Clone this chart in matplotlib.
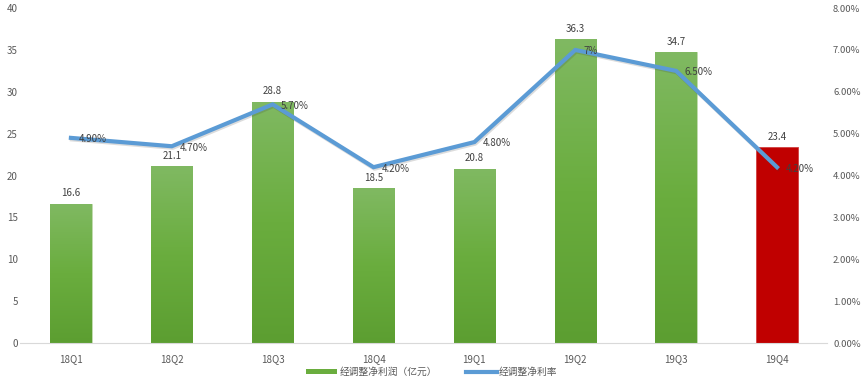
import numpy as np
import matplotlib
matplotlib.use("Agg")
import matplotlib.pyplot as plt
from matplotlib.ticker import FuncFormatter
from matplotlib.colors import LinearSegmentedColormap
from matplotlib.patches import Patch
from matplotlib.lines import Line2D

plt.rcParams['font.family'] = ['Noto Sans CJK SC', 'DejaVu Sans']

quarters = ['18Q1', '18Q2', '18Q3', '18Q4', '19Q1', '19Q2', '19Q3', '19Q4']
profit = [16.6, 21.1, 28.8, 18.5, 20.8, 36.3, 34.7, 23.4]
margin = [4.9, 4.7, 5.7, 4.2, 4.8, 7.0, 6.5, 4.2]
margin_labels = ['4.90%', '4.70%', '5.70%', '4.20%', '4.80%', '7%', '6.50%', '4.20%']
bar_colors = ['green'] * 7 + ['red']

tick_col = '#595959'
fig = plt.figure(figsize=(8.64, 3.85), dpi=100)
ax = fig.add_axes([0.0237, 0.109, 0.934, 0.87])
ax2 = ax.twinx()

x = np.arange(len(quarters))
green = LinearSegmentedColormap.from_list('g', ['#5c9e31', '#6aad3e', '#80b962'])
grad = np.linspace(0, 1, 256).reshape(-1, 1)

bars = ax.bar(x, profit, width=0.41, color='none', edgecolor='none', zorder=2)
for b, c in zip(bars, bar_colors):
    if c == 'red':
        b.set_facecolor('#c00000')
        b.set_edgecolor('#d04040')
        b.set_linewidth(0.6)
    else:
        b.set_edgecolor('#b5d3a0')
        b.set_linewidth(0.6)
        x0, w, h = b.get_x(), b.get_width(), b.get_height()
        im = ax.imshow(grad, cmap=green, origin='lower', aspect='auto',
                       extent=[x0, x0 + w, 0, h], zorder=2)
        im.set_clip_path(b)

for xi, v in zip(x, profit):
    ax.annotate(f'{v}', (xi, v), xytext=(0, 4), textcoords='offset points',
                ha='center', va='bottom', fontsize=7, color='#404040', zorder=5)

ax.set_xlim(-0.5, len(quarters) - 0.5)
ax.set_ylim(0, 40)
ax.set_yticks(range(0, 41, 5))
ax.set_xticks(x)
ax.set_xticklabels(quarters)

shadow = ax2.transData + matplotlib.transforms.ScaledTranslation(1/100, -1.5/100, fig.dpi_scale_trans)
ax2.plot(x, margin, color='#3d3d3d', lw=3, alpha=0.18, zorder=3, transform=shadow)
ax2.plot(x, margin, color='#5b9bd5', lw=3, zorder=4, solid_joinstyle='miter')
ax2.set_ylim(0, 8)
ax2.set_yticks(range(0, 9))
ax2.yaxis.set_major_formatter(FuncFormatter(lambda v, p: f'{v:.2f}%'))
for xi, v, s in zip(x, margin, margin_labels):
    ax2.annotate(s, (xi, v), xytext=(6, -1), textcoords='offset points',
                 ha='left', va='center', fontsize=7, color='#404040', zorder=6)

for a in (ax, ax2):
    for s in a.spines.values():
        s.set_visible(False)
    a.tick_params(length=0, labelsize=7, colors=tick_col)
ax.spines['bottom'].set_visible(True)
ax.spines['bottom'].set_color('#d9d9d9')
ax.tick_params(axis='x', pad=8)
ax.tick_params(axis='y', pad=2)
ax2.tick_params(axis='y', pad=4, labelsize=6.8)
ax.set_zorder(1)
ax2.set_zorder(2)
ax2.patch.set_visible(False)

handles = [Patch(facecolor='#6aad3e', edgecolor='none'),
           Line2D([0], [0], color='#5b9bd5', lw=3)]
fig.legend(handles, ['经调整净利润（亿元）', '经调整净利率'], loc='center',
           bbox_to_anchor=(0.5, 0.034), ncol=2, frameon=False, fontsize=7,
           labelcolor=tick_col, handlelength=3.2, handleheight=0.5,
           handletextpad=0.2, columnspacing=3)

fig.savefig('out.png', dpi=100)
